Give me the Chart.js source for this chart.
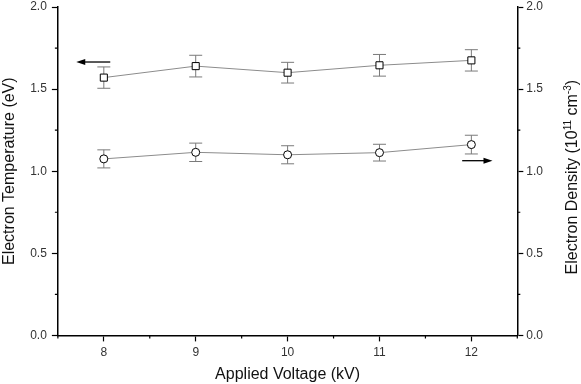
<!DOCTYPE html>
<html lang="en">
<head>
    <meta charset="UTF-8">
    <title>Electron Temperature and Density vs Applied Voltage</title>
    <script src="https://cdn.jsdelivr.net/npm/chart.js"></script>
    <style>
        html, body {
            margin: 0;
            padding: 0;
            background: #ffffff;
        }
        #chart {
            display: block;
        }
    </style>
</head>
<body>
    <canvas id="chart" width="581" height="384"></canvas>

    <script>
        // Data
        const voltages = [8, 9, 10, 11, 12];              // kV
        const temperature = [1.57, 1.64, 1.60, 1.645, 1.675]; // eV (left axis)
        const temperatureErr = [0.065, 0.066, 0.063, 0.066, 0.065];
        const density = [1.075, 1.115, 1.10, 1.113, 1.162];   // 1e11 cm^-3 (right axis)
        const densityErr = [0.055, 0.056, 0.055, 0.051, 0.057];

        // arrows pointing to each series' axis: [x start, x end, y value, axis]
        const arrows = [
            [8.07, 7.7, 1.665, "y"],
            [11.9, 12.23, 1.064, "y1"]
        ];

        const FONT = "'Liberation Sans', Arial, sans-serif";

        const isMajorX = v => Number.isInteger(v);
        const isMajorY = v => Number.isInteger(v * 2);

        const extras = {
            id: "extras",
            beforeDatasetsDraw(chart) {
                const ctx = chart.ctx;
                const xs = chart.scales.x;
                ctx.save();
                // error bars
                ctx.strokeStyle = "#7a7a7a";
                ctx.lineWidth = 1;
                chart.data.datasets.forEach(ds => {
                    const ys = chart.scales[ds.yAxisID];
                    ds.data.forEach((p, i) => {
                        const x = xs.getPixelForValue(p.x);
                        const top = ys.getPixelForValue(p.y + ds.errors[i]);
                        const bot = ys.getPixelForValue(p.y - ds.errors[i]);
                        ctx.beginPath();
                        ctx.moveTo(x, top); ctx.lineTo(x, bot);
                        ctx.moveTo(x - 6.5, top); ctx.lineTo(x + 6.5, top);
                        ctx.moveTo(x - 6.5, bot); ctx.lineTo(x + 6.5, bot);
                        ctx.stroke();
                    });
                });

                // short minor ticks
                const area = chart.chartArea;
                ctx.strokeStyle = "#000";
                ctx.lineWidth = 1.2;
                ctx.beginPath();
                xs.ticks.forEach(t => {
                    if (isMajorX(t.value)) return;
                    const x = xs.getPixelForValue(t.value);
                    ctx.moveTo(x, area.bottom); ctx.lineTo(x, area.bottom + 3);
                });
                ["y", "y1"].forEach(id => {
                    const s = chart.scales[id];
                    const x0 = id === "y" ? area.left : area.right;
                    const d = id === "y" ? -3 : 3;
                    s.ticks.forEach(t => {
                        if (isMajorY(t.value)) return;
                        const y = s.getPixelForValue(t.value);
                        ctx.moveTo(x0, y); ctx.lineTo(x0 + d, y);
                    });
                });
                ctx.stroke();
                ctx.restore();
            },
            afterDraw(chart) {
                const ctx = chart.ctx;
                const xs = chart.scales.x;
                ctx.save();
                ctx.strokeStyle = "#000";
                ctx.fillStyle = "#000";
                ctx.lineWidth = 1.3;
                arrows.forEach(([x0, x1, v, axis]) => {
                    const a = xs.getPixelForValue(x0);
                    const b = xs.getPixelForValue(x1);
                    const y = chart.scales[axis].getPixelForValue(v);
                    const dir = Math.sign(b - a);
                    ctx.beginPath();
                    ctx.moveTo(a, y); ctx.lineTo(b - dir * 6, y);
                    ctx.stroke();
                    ctx.beginPath();
                    ctx.moveTo(b, y);
                    ctx.lineTo(b - dir * 9, y - 3);
                    ctx.lineTo(b - dir * 9, y + 3);
                    ctx.closePath();
                    ctx.fill();
                });

                // right axis title, reading bottom to top, with superscripts
                const area = chart.chartArea;
                const parts = [
                    ["Electron Density (10", 16, 0],
                    ["11", 10, -6],
                    [" cm", 16, 0],
                    ["-3", 10, -6],
                    [")", 16, 0]
                ];
                let total = 0;
                parts.forEach(([t, s]) => {
                    ctx.font = s + "px " + FONT;
                    total += ctx.measureText(t).width;
                });
                ctx.translate(577, (area.top + area.bottom) / 2 + 6);
                ctx.rotate(-Math.PI / 2);
                ctx.fillStyle = "#111";
                ctx.textBaseline = "alphabetic";
                let pos = -total / 2;
                parts.forEach(([t, s, dy]) => {
                    ctx.font = s + "px " + FONT;
                    ctx.fillText(t, pos, dy);
                    pos += ctx.measureText(t).width;
                });
                ctx.restore();
            }
        };

        const tickFont = { family: FONT, size: 12 };
        const titleFont = { family: FONT, size: 16 };

        // keep the top of the plot close to the canvas edge
        const tightTop = scale => { scale.paddingTop = 7; };

        // long ticks only on labelled values; short ones are drawn by the plugin
        const gridFor = isMajor => ({
            drawOnChartArea: false,
            tickLength: 6,
            tickWidth: 1.2,
            tickColor: c => (c.tick && isMajor(c.tick.value)) ? "#000" : "rgba(0,0,0,0)"
        });

        new Chart(document.getElementById("chart").getContext("2d"), {
            type: "line",
            data: {
                datasets: [
                    {
                        label: "Electron Temperature",
                        data: voltages.map((v, i) => ({ x: v, y: temperature[i] })),
                        errors: temperatureErr,
                        yAxisID: "y",
                        borderColor: "#8c8c8c",
                        borderWidth: 1,
                        pointStyle: "rect",
                        pointRadius: 5,
                        pointBorderColor: "#000",
                        pointBackgroundColor: "#fff",
                        pointBorderWidth: 1,
                        tension: 0
                    },
                    {
                        label: "Electron Density",
                        data: voltages.map((v, i) => ({ x: v, y: density[i] })),
                        errors: densityErr,
                        yAxisID: "y1",
                        borderColor: "#8c8c8c",
                        borderWidth: 1,
                        pointStyle: "circle",
                        pointRadius: 4,
                        pointBorderColor: "#000",
                        pointBackgroundColor: "#fff",
                        pointBorderWidth: 1,
                        tension: 0
                    }
                ]
            },
            options: {
                responsive: false,
                devicePixelRatio: 1,
                animation: false,
                layout: { padding: { left: 0, right: 35, top: 0, bottom: 0 } },
                plugins: {
                    legend: { display: false },
                    tooltip: { enabled: false }
                },
                scales: {
                    x: {
                        type: "linear",
                        min: 7.5,
                        max: 12.5,
                        border: { color: "#000", width: 1.5 },
                        grid: gridFor(isMajorX),
                        ticks: {
                            stepSize: 0.5,
                            autoSkip: false,
                            maxRotation: 0,
                            padding: 4,
                            color: "#333",
                            font: tickFont,
                            callback: v => isMajorX(v) ? v : ""
                        },
                        title: {
                            display: true,
                            text: "Applied Voltage (kV)",
                            color: "#111",
                            font: titleFont,
                            padding: { top: 1, bottom: 0 }
                        }
                    },
                    y: {
                        position: "left",
                        min: 0,
                        max: 2,
                        afterFit: tightTop,
                        border: { color: "#000", width: 1.5 },
                        grid: gridFor(isMajorY),
                        ticks: {
                            stepSize: 0.25,
                            autoSkip: false,
                            padding: 5,
                            color: "#333",
                            font: tickFont,
                            callback: v => isMajorY(v) ? v.toFixed(1) : ""
                        },
                        title: {
                            display: true,
                            text: "Electron Temperature (eV)",
                            color: "#111",
                            font: titleFont,
                            padding: { top: 0, bottom: 6 }
                        }
                    },
                    y1: {
                        position: "right",
                        min: 0,
                        max: 2,
                        afterFit: tightTop,
                        border: { color: "#000", width: 1.5 },
                        grid: gridFor(isMajorY),
                        ticks: {
                            stepSize: 0.25,
                            autoSkip: false,
                            padding: 3,
                            color: "#333",
                            font: tickFont,
                            callback: v => isMajorY(v) ? v.toFixed(1) : ""
                        }
                    }
                }
            },
            plugins: [extras]
        });
    </script>
</body>
</html>
